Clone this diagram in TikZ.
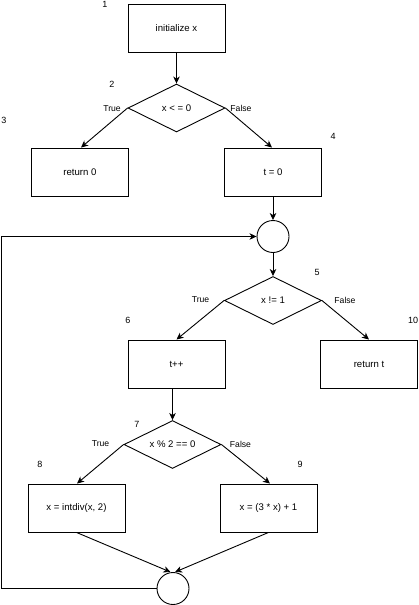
\documentclass[tikz,border=0pt]{standalone}
\usepackage{fontspec}
\setmainfont{Liberation Sans}
\usetikzlibrary{shapes.geometric,arrows.meta,calc}
\begin{document}
\begin{tikzpicture}[x=1pt,y=-1pt,
  every node/.style={font=\fontsize{9.6}{11}\selectfont},
  box/.style={draw,line width=0.9pt,minimum width=97pt,minimum height=48pt,inner sep=0pt},
  dia/.style={draw,diamond,line width=0.9pt,minimum width=97pt,minimum height=48pt,aspect=2,inner sep=0pt},
  circ/.style={draw,circle,line width=0.9pt,minimum size=32pt,inner sep=0pt},
  lbl/.style={font=\fontsize{8.6}{10}\selectfont,inner sep=0pt},
  num/.style={font=\fontsize{9}{10}\selectfont,inner sep=0pt},
  arr/.style={line width=0.9pt,-{Stealth[length=7pt,width=6.5pt,inset=2pt]}},
  ln/.style={line width=0.9pt}]
\useasboundingbox (0,0) rectangle (418,605);
\node[box] (b1) at (176.5,28) {initialize x};
\node[dia] (d2) at (176.5,108) {x < = 0};
\node[box] (b3) at (80,172) {return 0};
\node[box] (b4) at (273,172) {t = 0};
\node[circ] (c1) at (273,236.5) {};
\node[dia] (d5) at (273,300.5) {x != 1};
\node[box] (b6) at (176.5,364) {t++};
\node[box] (b10) at (369,364) {return t};
\node[dia] (d7) at (172.5,444.5) {x \% 2 == 0};
\node[box] (b8) at (76.5,508) {x = intdiv(x, 2)};
\node[box] (b9) at (268.5,508) {x = (3 * x) + 1};
\node[circ] (c2) at (173,588.5) {};
\coordinate (lc) at (1,588.5);
% numbers
\node[num] (n1) at (105,4) {1};
\node[num] (n2) at (112,84) {2};
\node[num] (n3) at (4,120) {3};
\node[num] (n4) at (333,136) {4};
\node[num] (n5) at (317,272) {5};
\node[num] (n6) at (128,320) {6};
\node[num] (n10) at (413,320) {10};
\node[num] (n7) at (137,424) {7};
\node[num] (n8) at (40,464) {8};
\node[num] (n9) at (300,464) {9};
% labels
\node[lbl] (t2) at (112,109) {True};
\node[lbl] (f2) at (241,108) {False};
\node[lbl] (t5) at (200.5,300) {True};
\node[lbl] (f5) at (345,300) {False};
\node[lbl] (t7) at (100.5,444) {True};
\node[lbl] (f7) at (240.5,444) {False};
% connectors
\draw[arr] (b1.south) -- (d2.north);
\draw[arr] (d2.west) -- ([xshift=1pt]b3.north);
\draw[arr] (d2.east) -- ([xshift=-1pt]b4.north);
\draw[arr] (b4.south) -- (c1.north);
\draw[arr] (c1.south) -- (d5.north);
\draw[arr] (d5.west) -- (b6.north);
\draw[arr] (d5.east) -- (b10.north);
\draw[arr] (d7.north |- b6.south) -- (d7.north);
\draw[arr] (d7.west) -- ([xshift=0.5pt]b8.north);
\draw[arr] (d7.east) -- ([xshift=1.5pt]b9.north);
\draw[arr] (b8.south) -- ([xshift=-2.5pt]c2.north);
\draw[arr] (b9.south) -- ([xshift=2pt]c2.north);
\draw[arr] (c2.west) -- (lc) |- (c1.west);
\end{tikzpicture}
\end{document}
